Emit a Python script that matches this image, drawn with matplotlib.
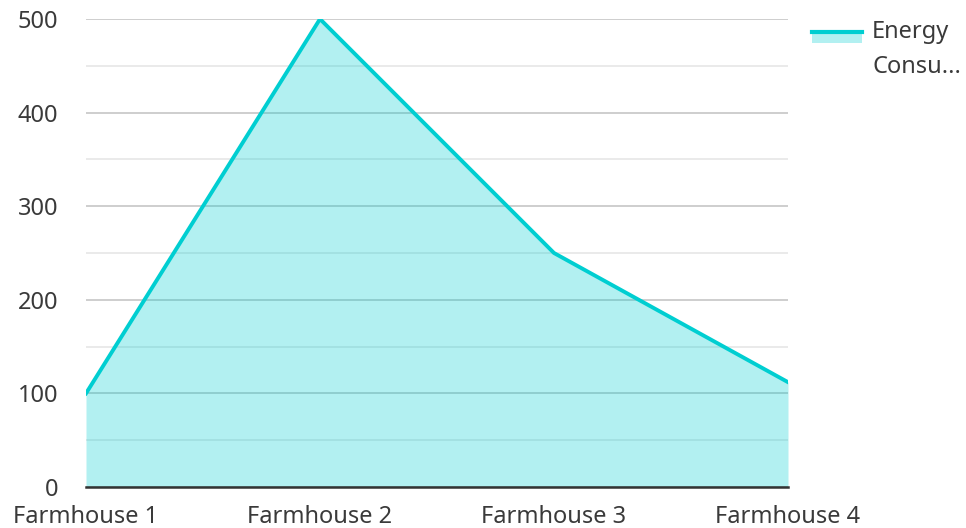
import matplotlib.pyplot as plt
from matplotlib.lines import Line2D
from matplotlib.patches import Rectangle

plt.rcParams['font.family'] = ['Noto Sans', 'DejaVu Sans']

# data
farmhouses = ['Farmhouse 1', 'Farmhouse 2', 'Farmhouse 3', 'Farmhouse 4']
energy = [100, 500, 250, 112]
series_name = 'Energy\nConsu...'

line_color = '#00CED1'
text_color = '#3a3a3a'

W, H = 966, 528
fig = plt.figure(figsize=(W / 100, H / 100), dpi=100)
ax = fig.add_axes([86 / W, 1 - 487 / H, (788 - 86) / W, (487 - 19) / H])

x = range(len(farmhouses))
ax.fill_between(x, energy, 0, color=line_color, alpha=0.3, lw=0, zorder=3)
ax.plot(x, energy, color=line_color, lw=2.8, zorder=4, solid_joinstyle='miter')

ax.set_xlim(0, len(farmhouses) - 1)
ax.set_ylim(0, 500)
ax.set_xticks(list(x))
ax.set_xticklabels(farmhouses)
ax.set_yticks([0, 100, 200, 300, 400, 500])
ax.set_yticks([50, 150, 250, 350, 450], minor=True)

ax.grid(axis='y', which='major', color='#c6c6c6', lw=1.2, zorder=1)
ax.grid(axis='y', which='minor', color='#e6e6e6', lw=1.2, zorder=1)
ax.grid(axis='x', visible=False)
ax.set_axisbelow(True)

for s in ['top', 'right', 'left']:
    ax.spines[s].set_visible(False)
ax.spines['bottom'].set_color('#333333')
ax.spines['bottom'].set_linewidth(1.8)
ax.spines['bottom'].set_zorder(5)

ax.tick_params(axis='both', which='both', length=0, labelsize=17, colors=text_color)
ax.tick_params(axis='y', pad=20)
ax.tick_params(axis='x', pad=13)

# legend drawn by hand: line on top of a filled band
fig.add_artist(Rectangle((812 / W, 1 - 43 / H), 50 / W, 12 / H,
                         transform=fig.transFigure, facecolor=line_color,
                         alpha=0.3, edgecolor='none'))
fig.add_artist(Line2D([812 / W, 862 / W], [1 - 31.5 / H, 1 - 31.5 / H],
                      transform=fig.transFigure, color=line_color, lw=3))
fig.text(872 / W, 1 - 20 / H, series_name, ha='left', va='top',
         fontsize=17, color=text_color, linespacing=1.6)

fig.savefig('out.png', dpi=100)
